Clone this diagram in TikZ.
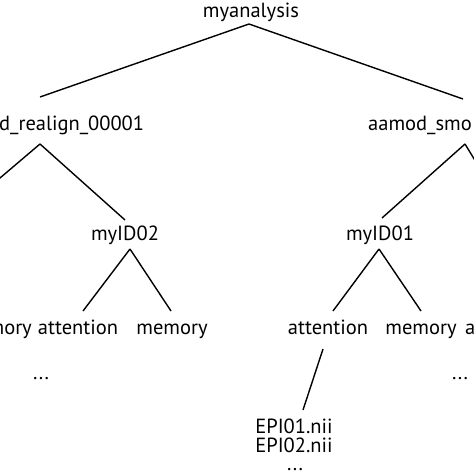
\documentclass[tikz,border=0pt]{standalone}
\usepackage{fontspec}
\setmainfont{PT Sans}
\usetikzlibrary{calc}

\begin{document}
\begin{tikzpicture}[x=1pt, y=-1pt, every node/.style={font=\fontsize{20.5}{23}\selectfont, inner sep=0pt, anchor=base}, branch/.style={line width=1.4pt}]
  \useasboundingbox (0,0) rectangle (474,474);
  \clip (0,0) rectangle (474,474);
  % top of the tree
  \node (root) at (251,17) {myanalysis};
  \node (realign) [anchor=base west] at (-1,130) {d\_realign\_00001};
  \node (smooth) [anchor=base west] at (368,130) {aamod\_smo};
  \node (id02) at (125,240) {myID02};
  \node (id01) at (380,240) {myID01};
  % sessions
  \node (memL) [anchor=base east] at (32,334) {mory};
  \node (att2) at (78,334) {attention};
  \node (mem2) at (172,334) {memory};
  \node (att1) at (328,334) {attention};
  \node (mem1) at (421,334) {memory};
  \node (attR) [anchor=base west] at (465,334) {a};
  \node (dotsL) at (41,379) {...};
  \node (dotsR) at (460,379) {...};
  % files
  \node (epi1) [text depth=0pt] at (294,433) {EPI01.nii};
  \node (epi2) [text depth=0pt] at (294,452) {EPI02.nii};
  \node (dotsE) [text depth=0pt] at (295,470) {...};
  \coordinate (realignL) at (-20,195);
  \coordinate (smoothR) at (490,185);
  \draw[branch] ($(root.base)+(-2,7)$) -- ($(realign.base west)+(41,-33)$);
  \draw[branch] ($(root.base)+(-2,7)$) -- ($(smooth.base west)+(95,-31)$);
  \draw[branch] ($(realign.base west)+(41,14)$) -- (realignL);
  \draw[branch] ($(realign.base west)+(41,14)$) -- ($(id02.base)+(0,-20)$);
  \draw[branch] ($(smooth.base west)+(97,14)$) -- ($(id01.base)+(2,-22)$);
  \draw[branch] ($(smooth.base west)+(97,14)$) -- (smoothR);
  \draw[branch] ($(id02.base)+(5,9)$) -- ($(att2.base)+(5,-23)$);
  \draw[branch] ($(id02.base)+(5,9)$) -- ($(mem2.base)+(-1,-23)$);
  \draw[branch] ($(id01.base)+(-1,9)$) -- ($(att1.base)+(5,-23)$);
  \draw[branch] ($(id01.base)+(-1,9)$) -- ($(mem1.base)+(0,-23)$);
  \draw[branch] ($(att1.base)+(-5,15)$) -- ($(epi1.base)+(9,-23)$);
\end{tikzpicture}
\end{document}
